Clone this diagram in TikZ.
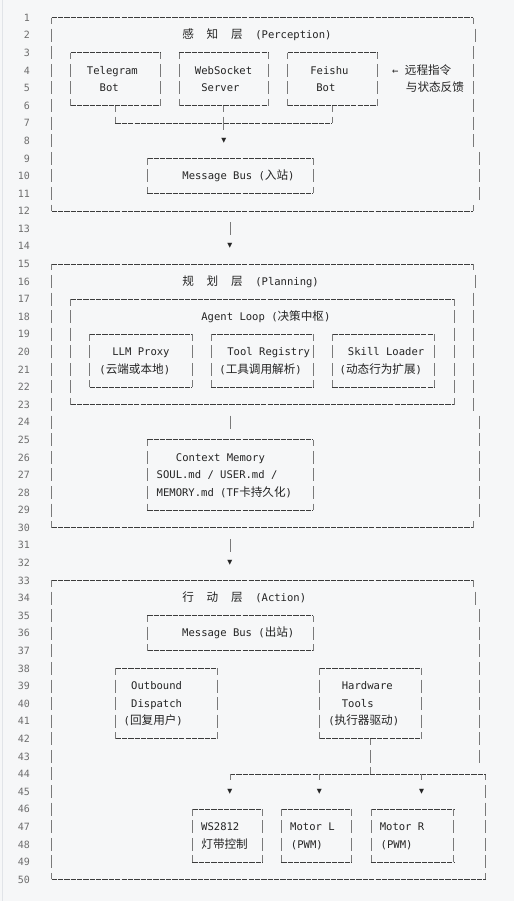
\documentclass[tikz,border=0pt]{standalone}
\usepackage{fontspec}
\newfontfamily\mono{DejaVu Sans Mono}
\newfontfamily\cjk{Noto Sans CJK SC}[Scale=1.1]
\newfontfamily\dvs{DejaVu Sans}
\usetikzlibrary{fit}
\definecolor{bgc}{HTML}{F6F7F8}
\definecolor{edgec}{HTML}{E1E4E8}
\definecolor{linec}{HTML}{3C3C3C}
\definecolor{barc}{HTML}{7A7A7A}
\definecolor{textc}{HTML}{242424}
\definecolor{numc}{HTML}{6E6E6E}
\newcommand{\zh}[1]{{\cjk #1}}
% frame of a box node: dashed top/bottom, one bar per text row at the sides
\newcommand{\frmbox}[1]{%
  \draw[hl] (#1.north west) -- (#1.north east);
  \draw[hl] (#1.south west) -- (#1.south east);
  \draw[vl] (#1.north west) -- (#1.south west);
  \draw[vl] (#1.north east) -- (#1.south east);}
% bars of rows #2..#3 at x=#1
\newcommand{\rbars}[3]{\draw[vrun] (#1,#2-0.37) -- (#1,#3+0.37);}
\tikzset{
  hl/.style={draw=linec, line width=0.7pt, dash pattern=on 5.3pt off 1.05pt},
  vl/.style={draw=barc, line width=0.9pt, dash pattern=on 13pt off 4.59pt, dash phase=6.5pt},
  vrun/.style={draw=barc, line width=0.9pt, dash pattern=on 13pt off 4.59pt},
  blk/.style={inner sep=0pt, outer sep=0pt},
  txt/.style={anchor=west, inner sep=0pt, text=textc, text height=9pt, text depth=1.6pt,
    font=\mono\fontsize{10.55}{12}\selectfont},
  lno/.style={anchor=east, inner sep=0pt, text=numc, text height=9pt, text depth=1.6pt,
    font=\mono\fontsize{10}{12}\selectfont},
  tip/.style={inner sep=0pt, text=black!85, font=\dvs\fontsize{6.5}{7}\selectfont},
}
\begin{document}
\begin{tikzpicture}[x=1pt, y=-17.59pt]
\useasboundingbox (0,0) rectangle (514,51.223);
\fill[bgc] (0,0) rectangle (514,51.223);
\draw[edgec, line width=1pt] (2.5,0) -- (2.5,51.223);
\foreach \n in {1,...,50} \node[lno] (ln\n) at (30,\n) {\n};

% perception layer
\node[blk, fit={(51.7,1) (473.3,12)}] (perc) {};
\draw[hl] (perc.north west) -- (perc.north east);
\draw[hl] (perc.south west) -- (perc.south east);
\draw[vl] (perc.north west) -- (perc.south west);
\draw[vrun] (perc.north east) -- ++(0,0.37);
\draw[vrun] (perc.south east) -- ++(0,-0.37);
\rbars{475.7}{2}{2}
\rbars{473.3}{3}{8}
\rbars{479.3}{9}{11}
\node[txt] (perct) at (182.2,2) {\zh{感}~~\zh{知}~~\zh{层}~~(Perception)};

\node[blk, fit={(70.7,3) (160.3,6)}] (tg) {};
\node[blk, fit={(179,3) (268.7,6)}] (ws) {};
\node[blk, fit={(287.7,3) (377.3,6)}] (fs) {};
\node[blk, fit={(147.3,9) (313.3,11)}] (mbin) {};
\frmbox{tg}
\frmbox{ws}
\frmbox{fs}
\frmbox{mbin}
\node[txt] (tg1) at (86.8,4) {Telegram};
\node[txt] (tg2) at (99.5,5) {Bot};
\node[txt] (ws1) at (194.8,4) {WebSocket};
\node[txt] (ws2) at (201.2,5) {Server};
\node[txt] (fs1) at (310.2,4) {Feishu};
\node[txt] (fs2) at (316.2,5) {Bot};
\node[txt] (rm1) at (392,4) {← \zh{远程指令}};
\node[txt] (rm2) at (405.7,5) {\zh{与状态反馈}};
\node[txt] (mbint) at (182.2,10) {Message Bus (\zh{入站})};

\coordinate (j1) at (ws.south |- 0,7);
\draw[vl] (tg.south) -- (tg.south |- j1);
\draw[vl] (fs.south) -- (fs.south |- j1);
\draw[hl] (tg.south |- j1) -- (fs.south |- j1);
\draw[vl] (ws.south) -- ([yshift=-6.5pt]j1);
\node[tip] (a1) at (ws.south |- 0,8) {▼};

\node[tip] (a2) at (230,14) {▼};
\draw[vrun] (a2 |- perc.south) ++(0,0.63) -- ++(0,0.74);

% planning layer
\node[blk, fit={(51.7,15) (473.3,30)}] (plan) {};
\draw[hl] (plan.north west) -- (plan.north east);
\draw[hl] (plan.south west) -- (plan.south east);
\draw[vl] (plan.north west) -- (plan.south west);
\draw[vrun] (plan.north east) -- ++(0,0.37);
\draw[vrun] (plan.south east) -- ++(0,-0.37);
\rbars{475.7}{16}{16}
\rbars{473.3}{17}{23}
\rbars{479.3}{24}{29}
\node[txt] (plant) at (182.2,16) {\zh{规}~~\zh{划}~~\zh{层}~~(Planning)};

\node[blk, fit={(70.7,17) (454.3,23)}] (agent) {};
\node[blk, fit={(89.7,19) (192.3,22)}] (llm) {};
\node[blk, fit={(211,19) (313.3,22)}] (reg) {};
\node[blk, fit={(332.3,19) (434.7,22)}] (skl) {};
\node[blk, fit={(147.3,25) (313.3,29)}] (ctx) {};
\frmbox{agent}
\frmbox{llm}
\frmbox{reg}
\frmbox{skl}
\frmbox{ctx}
\node[txt] (agentt) at (201.2,18) {Agent Loop (\zh{决策中枢})};
\node[txt] (llm1) at (112.2,20) {LLM Proxy};
\node[txt] (llm2) at (99.2,21) {(\zh{云端或本地})};
\node[txt] (reg1) at (227.2,20) {Tool Registry};
\node[txt] (reg2) at (219.2,21) {(\zh{工具调用解析})};
\node[txt] (skl1) at (347.8,20) {Skill Loader};
\node[txt] (skl2) at (339.5,21) {(\zh{动态行为扩展})};
\node[txt] (ctx1) at (175.8,26) {Context Memory};
\node[txt] (ctx2) at (156.5,27) {SOUL.md / USER.md /};
\node[txt] (ctx3) at (156.5,28) {MEMORY.md (TF\zh{卡持久化})};

\draw[vrun] (ctx.north |- agent.south) ++(0,0.63) -- ++(0,0.74);

\node[tip] (a3) at (230,32) {▼};
\draw[vrun] (a3 |- plan.south) ++(0,0.63) -- ++(0,0.74);

% action layer
\node[blk, fit={(51.7,33) (473.3,50)}] (act) {};
\draw[hl] (act.north west) -- (act.north east);
\draw[hl] (act.south west) -- (485.7,50);
\draw[vl] (act.north west) -- (act.south west);
\draw[vrun] (act.north east) -- ++(0,0.37);
\draw[vrun] (485.7,44) -- ++(0,0.37);
\draw[vrun] (485.7,50) -- ++(0,-0.37);
\rbars{475.7}{34}{34}
\rbars{479.3}{35}{43}
\rbars{485.7}{45}{49}
\node[txt] (actt) at (182.2,34) {\zh{行}~~\zh{动}~~\zh{层}~~(Action)};

\node[blk, fit={(147.3,35) (313.3,37)}] (mbout) {};
\node[blk, fit={(115.7,38) (217.7,42)}] (ob) {};
\node[blk, fit={(319.7,38) (421.7,42)}] (ht) {};
\node[blk, fit={(192.3,46) (262.7,49)}] (led) {};
\node[blk, fit={(281.3,46) (351.7,49)}] (ml) {};
\node[blk, fit={(371,46) (453.7,49)}] (mr) {};
\frmbox{mbout}
\frmbox{ob}
\frmbox{ht}
\frmbox{led}
\frmbox{ml}
\frmbox{mr}
\node[txt] (mboutt) at (182,36) {Message Bus (\zh{出站})};
\node[txt] (ob1) at (131,39) {Outbound};
\node[txt] (ob2) at (131,40) {Dispatch};
\node[txt] (ob3) at (123.5,41) {(\zh{回复用户})};
\node[txt] (ht1) at (341.7,39) {Hardware};
\node[txt] (ht2) at (341.7,40) {Tools};
\node[txt] (ht3) at (328.2,41) {(\zh{执行器驱动})};
\node[txt] (led1) at (201,47) {WS2812};
\node[txt] (led2) at (201.2,48) {\zh{灯带控制}};
\node[txt] (ml1) at (290,47) {Motor L};
\node[txt] (ml2) at (290.8,48) {(PWM)};
\node[txt] (mr1) at (379.6,47) {Motor R};
\node[txt] (mr2) at (380.5,48) {(PWM)};

\coordinate (br) at (ht.south |- 0,44);
\node[tip] (a4) at (230,45) {▼};
\node[tip] (a5) at (319.3,45) {▼};
\node[tip] (a6) at (421.7,45) {▼};
\draw[vl] (ht.south) -- (br);
\draw[hl] (a4 |- br) -- (485.7,44);
\foreach \t in {a4,a5,a6} \draw[vrun] (\t |- br) -- ++(0,0.37);
\end{tikzpicture}
\end{document}
